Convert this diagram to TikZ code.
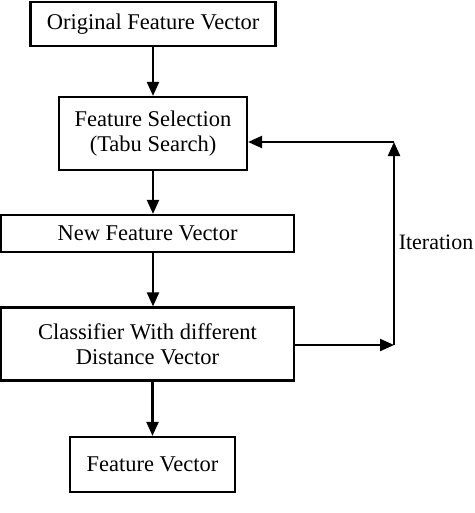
\documentclass[tikz,border=0pt]{standalone}
\usepackage{fontspec}
\setmainfont{Liberation Serif}
\usetikzlibrary{arrows.meta}
\tikzset{
  blk/.style={draw,line width=2.2pt,inner sep=0pt,align=center,font=\fontsize{22.5}{25}\selectfont},
  flow/.style={line width=2.2pt,-{Triangle[length=14pt,width=12pt]}}
}
\begin{document}
\begin{tikzpicture}[x=1pt,y=-1pt]
      \useasboundingbox (0,0) rectangle (474,513);
      \node[blk,minimum width=245pt,minimum height=44pt] (orig) at (153,24) {Original Feature Vector};
      \node[blk,minimum width=188pt,minimum height=73pt] (sel) at (153,133.5) {Feature Selection\\(Tabu Search)};
      \node[blk,minimum width=293pt,minimum height=37pt] (newv) at (147.5,233.5) {New Feature Vector};
      \node[blk,minimum width=293pt,minimum height=73pt] (cls) at (147.5,344) {Classifier With different\\Distance Vector};
      \node[blk,minimum width=165pt,minimum height=55pt] (fv) at (152.5,464.5) {Feature Vector};
      \coordinate (low) at (394,345);
      \coordinate (high) at (394,142);
      \node[anchor=east,inner sep=0pt,font=\fontsize{22}{25}\selectfont] (iter) at (473.5,242) {Iteration};
      \draw[flow] (orig.south -| sel) -- (sel.north);
      \draw[flow] (sel.south) -- (sel.south |- newv.north);
      \draw[flow] (newv.south -| sel) -- (sel |- cls.north);
      \draw[flow] (cls.south -| fv) -- (fv.north);
      \draw[flow] (cls.east |- low) -- (low);
      \draw[flow] (low) -- (high);
      \draw[flow] (high) -- (sel.east |- high);
\end{tikzpicture}
\end{document}
